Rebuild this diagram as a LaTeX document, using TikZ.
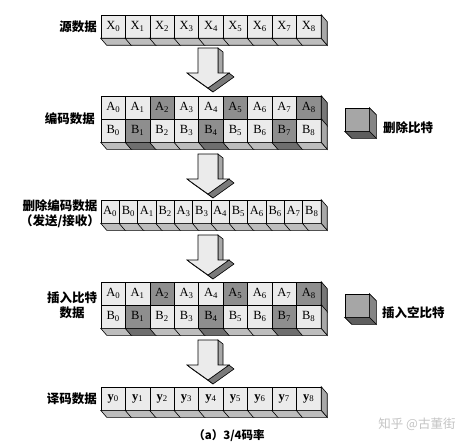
\documentclass[tikz,border=0pt]{standalone}
\usepackage{fontspec}
\setmainfont{Liberation Serif}
\newfontfamily\cjk{Noto Sans CJK SC}
\usetikzlibrary{calc}
\definecolor{lf}{HTML}{EBEBEB}
\definecolor{df}{HTML}{8E8E8E}
\definecolor{lb}{HTML}{BDBDBD}
\definecolor{db}{HTML}{6E6E6E}
\definecolor{lr}{HTML}{A8A8A8}
\definecolor{dr}{HTML}{777777}
\definecolor{cubef}{HTML}{A6A6A6}
\definecolor{cuber}{HTML}{858585}
\definecolor{cubeb}{HTML}{5E5E5E}
\definecolor{arl}{HTML}{D0D0D0}
\definecolor{ard}{HTML}{7A7A7A}
\definecolor{wm}{HTML}{C4C4C4}
\tikzset{
  face/.style={draw=black, line width=0.6pt},
  cellbox/.style={face, fill=lf, minimum width=24.44pt, minimum height=23pt, inner sep=0pt,
    font=\fontsize{12.5}{12}\selectfont},
  narrowbox/.style={cellbox, minimum width=18.33pt},
  rowlabel/.style={font=\cjk\bfseries\fontsize{12.5}{15}\selectfont, inner sep=0pt, align=center},
}
\newcommand\blkarrow[1]{%
  \begin{scope}[shift={#1}]
    \filldraw[face, fill=lr] (20,0) -- (25,4) -- (25,29) -- (20,25) -- cycle;
    \filldraw[face, fill=arl] (-11,25) -- (10,40) -- (15,44) -- (-6,29) -- cycle;
    \filldraw[face, fill=ard] (31,25) -- (10,40) -- (15,44) -- (36,29) -- cycle;
    \filldraw[face, fill=lf] (0,0) -- (20,0) -- (20,25) -- (31,25) -- (10,40) -- (-11,25) -- (0,25) -- cycle;
  \end{scope}}
\begin{document}
\begin{tikzpicture}[x=1pt, y=-1pt]
\useasboundingbox (0,0) rectangle (474,444);
\fill[white] (0,0) rectangle (474,444);

% ---------- row 1: source data
\node[rowlabel, anchor=east] (lab1) at (97,27) {源数据};
\foreach \i in {0,...,8}{
  \node[cellbox] (s\i) at ({101+24.44*(\i+0.5)}, 26.5) {X\textsubscript{\i}};
  \filldraw[face, fill=lb] (s\i.south west) -- (s\i.south east) -- ++(6,7) -- ($(s\i.south west)+(6,7)$) -- cycle;
}
\filldraw[face, fill=lr] (s8.north east) -- ++(6,7) -- ($(s8.south east)+(6,7)$) -- (s8.south east) -- cycle;

\blkarrow{(198,48)}

% ---------- row 2: coded data
\node[rowlabel, anchor=east] (lab2) at (95,119) {编码数据};
\foreach \i/\fa/\fb/\bb in {0/lf/lf/lb,1/lf/df/db,2/df/lf/lb,3/lf/lf/lb,4/lf/df/db,5/df/lf/lb,6/lf/lf/lb,7/lf/df/db,8/df/lf/lb}{
  \node[cellbox, fill=\fa] (a\i) at ({101+24.44*(\i+0.5)}, 107.5) {A\textsubscript{\i}};
  \node[cellbox, fill=\fb] (b\i) at ({101+24.44*(\i+0.5)}, 130.5) {B\textsubscript{\i}};
  \filldraw[face, fill=\bb] (b\i.south west) -- (b\i.south east) -- ++(6,7) -- ($(b\i.south west)+(6,7)$) -- cycle;
}
\filldraw[face, fill=dr] (a8.north east) -- ++(6,7) -- ($(a8.south east)+(6,7)$) -- (a8.south east) -- cycle;
\filldraw[face, fill=lr] (b8.north east) -- ++(6,7) -- ($(b8.south east)+(6,7)$) -- (b8.south east) -- cycle;

% legend: deleted bit
\node[face, fill=cubef, minimum width=24pt, minimum height=23pt, inner sep=0pt] (cubeA) at (357,119.5) {};
\filldraw[face, fill=cuber] (cubeA.north east) -- ++(7,7) -- ($(cubeA.south east)+(7,7)$) -- (cubeA.south east) -- cycle;
\filldraw[face, fill=cubeb] (cubeA.south west) -- (cubeA.south east) -- ++(7,7) -- ($(cubeA.south west)+(7,7)$) -- cycle;
\node[rowlabel, anchor=west] (legA) at (383,128) {删除比特};

\blkarrow{(198,154)}

% ---------- row 3: punctured data
\node[rowlabel] (lab3) at (60,213.5) {删除编码数据\\（发送/接收）};
\foreach \i/\l/\s in {0/A/0,1/B/0,2/A/1,3/B/2,4/A/3,5/B/3,6/A/4,7/B/5,8/A/6,9/B/6,10/A/7,11/B/8}{
  \node[narrowbox] (p\i) at ({101+18.33*(\i+0.5)}, 211.5) {\l\textsubscript{\s}};
  \filldraw[face, fill=lb] (p\i.south west) -- (p\i.south east) -- ++(6,7) -- ($(p\i.south west)+(6,7)$) -- cycle;
}
\filldraw[face, fill=lr] (p11.north east) -- ++(6,7) -- ($(p11.south east)+(6,7)$) -- (p11.south east) -- cycle;

\blkarrow{(198,235)}

% ---------- row 4: bit-inserted data
\node[rowlabel] (lab4) at (72,305) {插入比特\\数据};
\foreach \i/\fa/\fb/\bb in {0/lf/lf/lb,1/lf/df/db,2/df/lf/lb,3/lf/lf/lb,4/lf/df/db,5/df/lf/lb,6/lf/lf/lb,7/lf/df/db,8/df/lf/lb}{
  \node[cellbox, fill=\fa] (c\i) at ({101+24.44*(\i+0.5)}, 293.5) {A\textsubscript{\i}};
  \node[cellbox, fill=\fb] (d\i) at ({101+24.44*(\i+0.5)}, 316.5) {B\textsubscript{\i}};
  \filldraw[face, fill=\bb] (d\i.south west) -- (d\i.south east) -- ++(6,7) -- ($(d\i.south west)+(6,7)$) -- cycle;
}
\filldraw[face, fill=dr] (c8.north east) -- ++(6,7) -- ($(c8.south east)+(6,7)$) -- (c8.south east) -- cycle;
\filldraw[face, fill=lr] (d8.north east) -- ++(6,7) -- ($(d8.south east)+(6,7)$) -- (d8.south east) -- cycle;

% legend: inserted null bit
\node[face, fill=cubef, minimum width=24pt, minimum height=23pt, inner sep=0pt] (cubeB) at (357,305.5) {};
\filldraw[face, fill=cuber] (cubeB.north east) -- ++(7,7) -- ($(cubeB.south east)+(7,7)$) -- (cubeB.south east) -- cycle;
\filldraw[face, fill=cubeb] (cubeB.south west) -- (cubeB.south east) -- ++(7,7) -- ($(cubeB.south west)+(7,7)$) -- cycle;
\node[rowlabel, anchor=west] (legB) at (382,313) {插入空比特};

\blkarrow{(198,340)}

% ---------- row 5: decoded data
\node[rowlabel, anchor=east] (lab5) at (97,399) {译码数据};
\foreach \i in {0,...,8}{
  \node[cellbox] (y\i) at ({101+24.44*(\i+0.5)}, 398.5) {\textbf{y}\textsubscript{\i}};
  \filldraw[face, fill=lb] (y\i.south west) -- (y\i.south east) -- ++(6,7) -- ($(y\i.south west)+(6,7)$) -- cycle;
}
\filldraw[face, fill=lr] (y8.north east) -- ++(6,7) -- ($(y8.south east)+(6,7)$) -- (y8.south east) -- cycle;

% caption and watermark
\node[rowlabel, font=\cjk\bfseries\fontsize{11.5}{14}\selectfont] (cap) at (229,436) {（a）3/4码率};
\node[rowlabel, text=wm, font=\cjk\fontsize{12.5}{15}\selectfont] (wmark) at (417,424) {知乎 @古董街};
\end{tikzpicture}
\end{document}
